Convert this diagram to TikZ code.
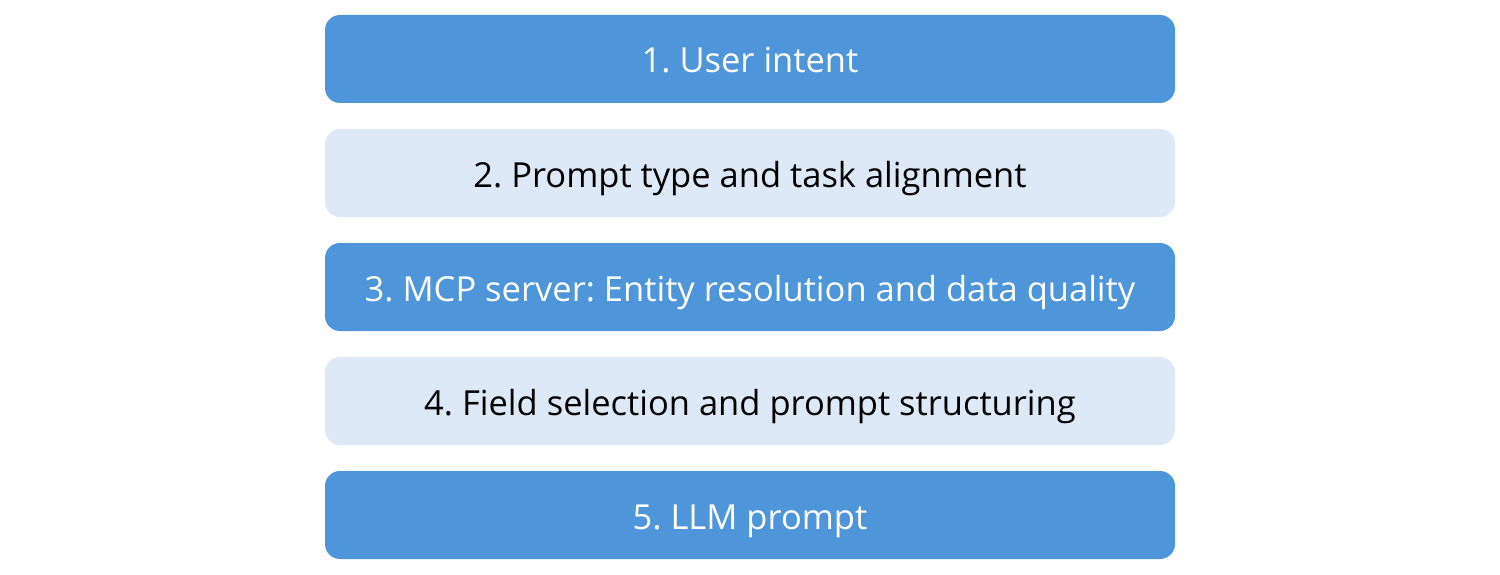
\documentclass[tikz,border=0pt]{standalone}
\usepackage{fontspec}
\setmainfont{Open Sans}
\frenchspacing
\definecolor{darkbox}{HTML}{4F95D9}
\definecolor{lightbox}{HTML}{DDE9F6}
\begin{document}
\begin{tikzpicture}[x=1pt,y=-1pt,
  stepbase/.style={minimum width=850pt,minimum height=88pt,rounded corners=15pt,inner sep=0pt,text height=28pt,text depth=0pt,font=\fontsize{34.5}{40}\selectfont},
  darkstep/.style={stepbase,fill=darkbox,text=white},
  lightstep/.style={stepbase,fill=lightbox,text=black}]
\useasboundingbox (0,0) rectangle (1500,575);
\node[darkstep] (s1) at (750,59) {1. User intent};
\node[lightstep] (s2) at (750,173) {2. Prompt type and task alignment};
\node[darkstep] (s3) at (750,287) {3. MCP server: Entity resolution and data quality};
\node[lightstep] (s4) at (750,401) {4. Field selection and prompt structuring};
\node[darkstep] (s5) at (750,515) {5. LLM prompt};
\end{tikzpicture}
\end{document}
